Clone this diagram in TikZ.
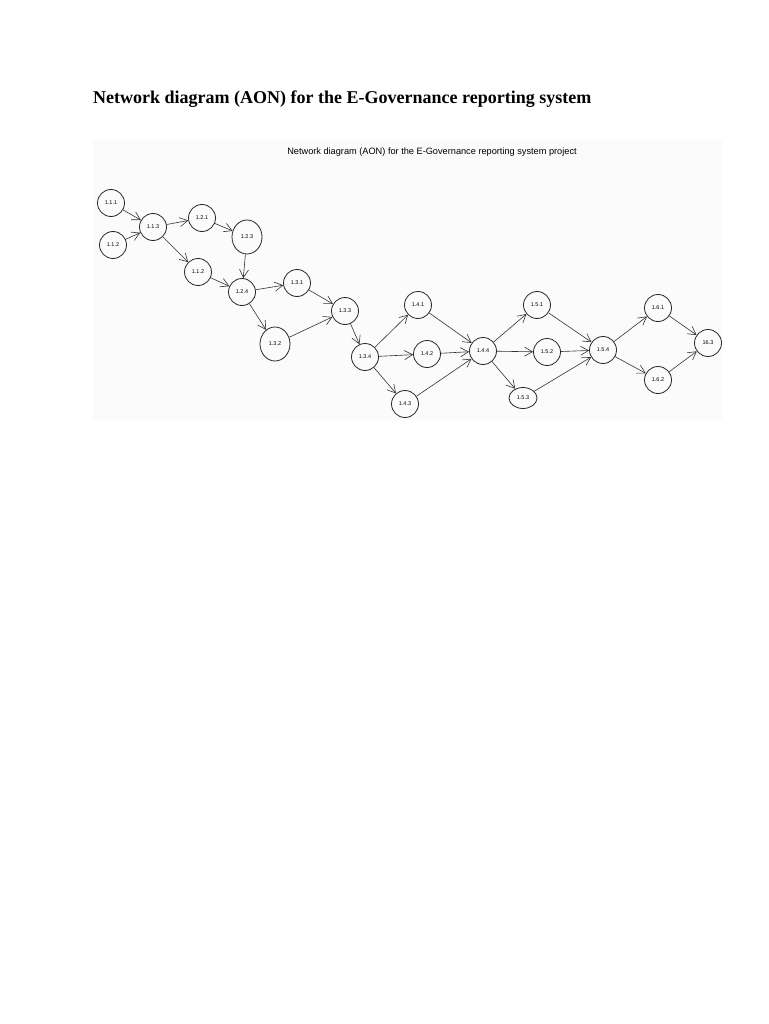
\documentclass[tikz,border=0pt]{standalone}
\usepackage{fontspec}
\setmainfont{Liberation Serif}
\setsansfont{Liberation Sans}
\usetikzlibrary{shapes.geometric, arrows, arrows.meta, positioning}
\tikzstyle{actNode} = [ellipse, minimum width=27pt, minimum height=27pt, inner sep=0pt, text centered, draw=black!85, line width=0.8pt, font=\sffamily\fontsize{5.5}{6}\selectfont]
\tikzstyle{actNodeT} = [actNode, minimum width=30pt, minimum height=34pt]
\tikzstyle{actNodeW} = [actNode, minimum width=28pt, minimum height=21pt]
\tikzstyle{arrow} = [line width=0.6pt,-{Straight Barb[length=8pt,width=9pt]},draw=black!80]

\begin{document}
\begin{tikzpicture}[x=1pt, y=1pt, node distance=50pt]
        \useasboundingbox (0,0) rectangle (768,-1024);
        \fill[black!1.5] (93,-140) rectangle (722,-420);
        \node (title) [anchor=base west, inner sep=0pt, font=\bfseries\fontsize{18}{20}\selectfont] at (93,-104) {Network diagram (AON) for the E-Governance reporting system};
        \node (subtitle) [font=\sffamily\fontsize{9.2}{10}\selectfont] at (432,-152) {Network diagram (AON) for the E-Governance reporting system project};

        % first part
        \node (n111) [actNode] at (111,-203) {1.1.1};
        \node (n112) [actNode, below of=n111, xshift=2pt, yshift=8pt] {1.1.2};
        \node (n113) [actNode, right of=n111, xshift=-8pt, yshift=-24pt] {1.1.3};
        \node (n121) [actNode, right of=n113, xshift=-1pt, yshift=9pt] {1.2.1};
        \node (n123) [actNodeT, right of=n121, xshift=-5pt, yshift=-19pt] {1.2.3};
        \node (n112b) [actNode, below of=n121, xshift=-4pt, yshift=-4pt] {1.1.2};
        \node (n124) [actNode, below of=n123, xshift=-5pt, yshift=-5pt] {1.2.4};
        \node (n131) [actNode, right of=n124, xshift=5pt, yshift=9pt] {1.3.1};
        \node (n132) [actNodeT, below of=n124, xshift=33pt, yshift=-2pt] {1.3.2};
        \node (n133) [actNode, right of=n131, xshift=-2pt, yshift=-28pt] {1.3.3};
        \node (n134) [actNode, below of=n133, xshift=20pt, yshift=4pt] {1.3.4};

        % middle part
        \node (n142) [actNode, right of=n134, xshift=12pt, yshift=3pt] {1.4.2};
        \node (n141) [actNode, above of=n142, xshift=-9pt, yshift=-1pt] {1.4.1};
        \node (n143) [actNode, below of=n142, xshift=-22pt] {1.4.3};
        \node (n144) [actNode, right of=n142, xshift=6pt, yshift=3pt] {1.4.4};
        \node (n152) [actNode, right of=n144, xshift=14pt, yshift=-1pt] {1.5.2};
        \node (n151) [actNode, above of=n152, xshift=-10pt, yshift=-3pt] {1.5.1};
        \node (n153) [actNodeW, below of=n152, xshift=-24pt, yshift=4pt] {1.5.3};
        \node (n154) [actNode, right of=n152, xshift=6pt, yshift=2pt] {1.5.4};

        % last part
        \node (n161) [actNode, right of=n154, xshift=5pt, yshift=42pt] {1.6.1};
        \node (n162) [actNode, right of=n154, xshift=5pt, yshift=-30pt] {1.6.2};
        \node (n163) [actNode, right of=n161, yshift=-35pt] {16.3};

        \draw [arrow] (n111) -- (n113);
        \draw [arrow] (n112) -- (n113);
        \draw [arrow] (n113) -- (n121);
        \draw [arrow] (n113) -- (n112b);
        \draw [arrow] (n121) -- (n123);
        \draw [arrow] (n123) -- (n124);
        \draw [arrow] (n112b) -- (n124);
        \draw [arrow] (n124) -- (n131);
        \draw [arrow] (n124) -- (n132);
        \draw [arrow] (n131) -- (n133);
        \draw [arrow] (n132) -- (n133);
        \draw [arrow] (n133) -- (n134);
        \draw [arrow] (n134) -- (n141);
        \draw [arrow] (n134) -- (n142);
        \draw [arrow] (n134) -- (n143);
        \draw [arrow] (n141) -- (n144);
        \draw [arrow] (n142) -- (n144);
        \draw [arrow] (n143) -- (n144);
        \draw [arrow] (n144) -- (n151);
        \draw [arrow] (n144) -- (n152);
        \draw [arrow] (n144) -- (n153);
        \draw [arrow] (n151) -- (n154);
        \draw [arrow] (n152) -- (n154);
        \draw [arrow] (n153) -- (n154);
        \draw [arrow] (n154) -- (n161);
        \draw [arrow] (n154) -- (n162);
        \draw [arrow] (n161) -- (n163);
        \draw [arrow] (n162) -- (n163);
    \end{tikzpicture}
\end{document}
